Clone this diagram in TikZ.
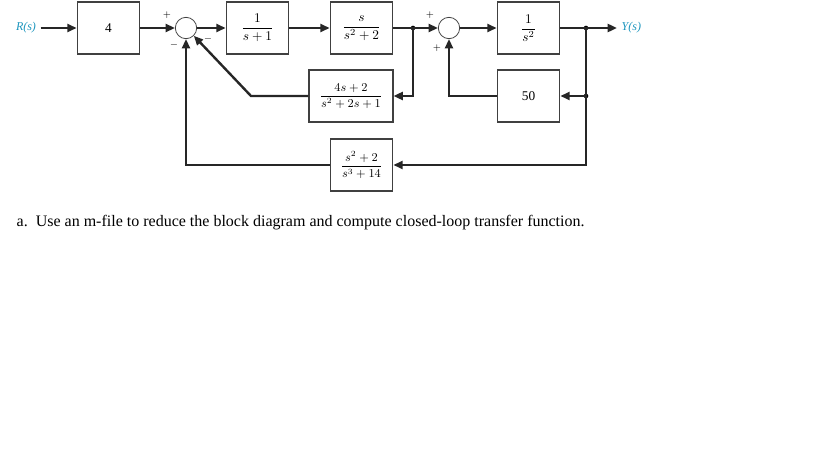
\documentclass[tikz,border=0pt]{standalone}
\usepackage{amsmath}
\usepackage{fontspec}
\setmainfont{Liberation Serif}
\usetikzlibrary{arrows.meta}
\definecolor{sig}{RGB}{30,150,190}
\begin{document}
\begin{tikzpicture}[x=0.75pt,y=-0.75pt,
  blk/.style={draw=black!75,line width=0.8pt,minimum width=47pt,minimum height=39pt,inner sep=0pt,font=\normalsize},
  sum/.style={circle,draw=black!75,line width=0.6pt,minimum size=16pt,inner sep=0pt},
  ln/.style={line width=1.8pt,draw=black!85},
  ar/.style={ln,-{Triangle[length=7pt,width=6pt]}},
  dot/.style={circle,fill=black,inner sep=0pt,minimum size=3.5pt},
  lb/.style={font=\scriptsize,inner sep=0pt}]
\useasboundingbox (0,0) rectangle (819,460);
\node[font=\small\itshape,text=sig] (R) at (26,28) {R(s)};
\node[blk] (g4) at (108.5,28) {4};
\node[sum] (s1) at (186,28) {};
\node[blk] (g1) at (257.5,28) {$\dfrac{1}{s+1}$};
\node[blk] (g2) at (361.5,28) {$\dfrac{s}{s^2+2}$};
\node[blk,minimum width=63pt,font=\small] (h1) at (351,96) {$\dfrac{4s+2}{s^2+2s+1}$};
\node[sum] (s2) at (449,28) {};
\node[blk] (g3) at (528.5,28) {$\dfrac{1}{s^2}$};
\node[blk] (h2) at (528.5,96) {50};
\node[blk,font=\small] (h3) at (361.5,165) {$\dfrac{s^2+2}{s^3+14}$};
\node[font=\small\itshape,text=sig,anchor=west] (Y) at (617,28) {Y(s)};
\coordinate (b1) at (413,28);
\coordinate (b2) at (586,28);
\coordinate (b3) at (586,96);
\node[dot] at (b1) {};\node[dot] at (b2) {};\node[dot] at (b3) {};
\coordinate (k1) at (251,96);
\draw[ar] (R) -- (g4);
\draw[ar] (g4) -- (s1);
\draw[ar] (s1) -- (g1);
\draw[ar] (g1) -- (g2);
\draw[ar] (g2) -- (s2);
\draw[ar] (s2) -- (g3);
\draw[ar] (g3) -- (Y.west);
\draw[ar] (b1) |- (h1);
\draw[ar] (h1) -- (k1) -- (s1.-45);
\draw[ar] (b2) |- (h2);
\draw[ar] (h2) -| (s2);
\draw[ar] (b2) |- (h3);
\draw[ar] (h3) -| (s1);
\node[lb] at (167,15) {$+$};
\node[lb] at (208,39) {$-$};
\node[lb] at (174,45) {$-$};
\node[lb] at (430,15) {$+$};
\node[lb] at (437,48) {$+$};
\node[anchor=west,font=\fontsize{12}{14}\selectfont] (q) at (12,223) {a.\ \ Use an m-file to reduce the block diagram and compute closed-loop transfer function.};
\end{tikzpicture}
\end{document}
